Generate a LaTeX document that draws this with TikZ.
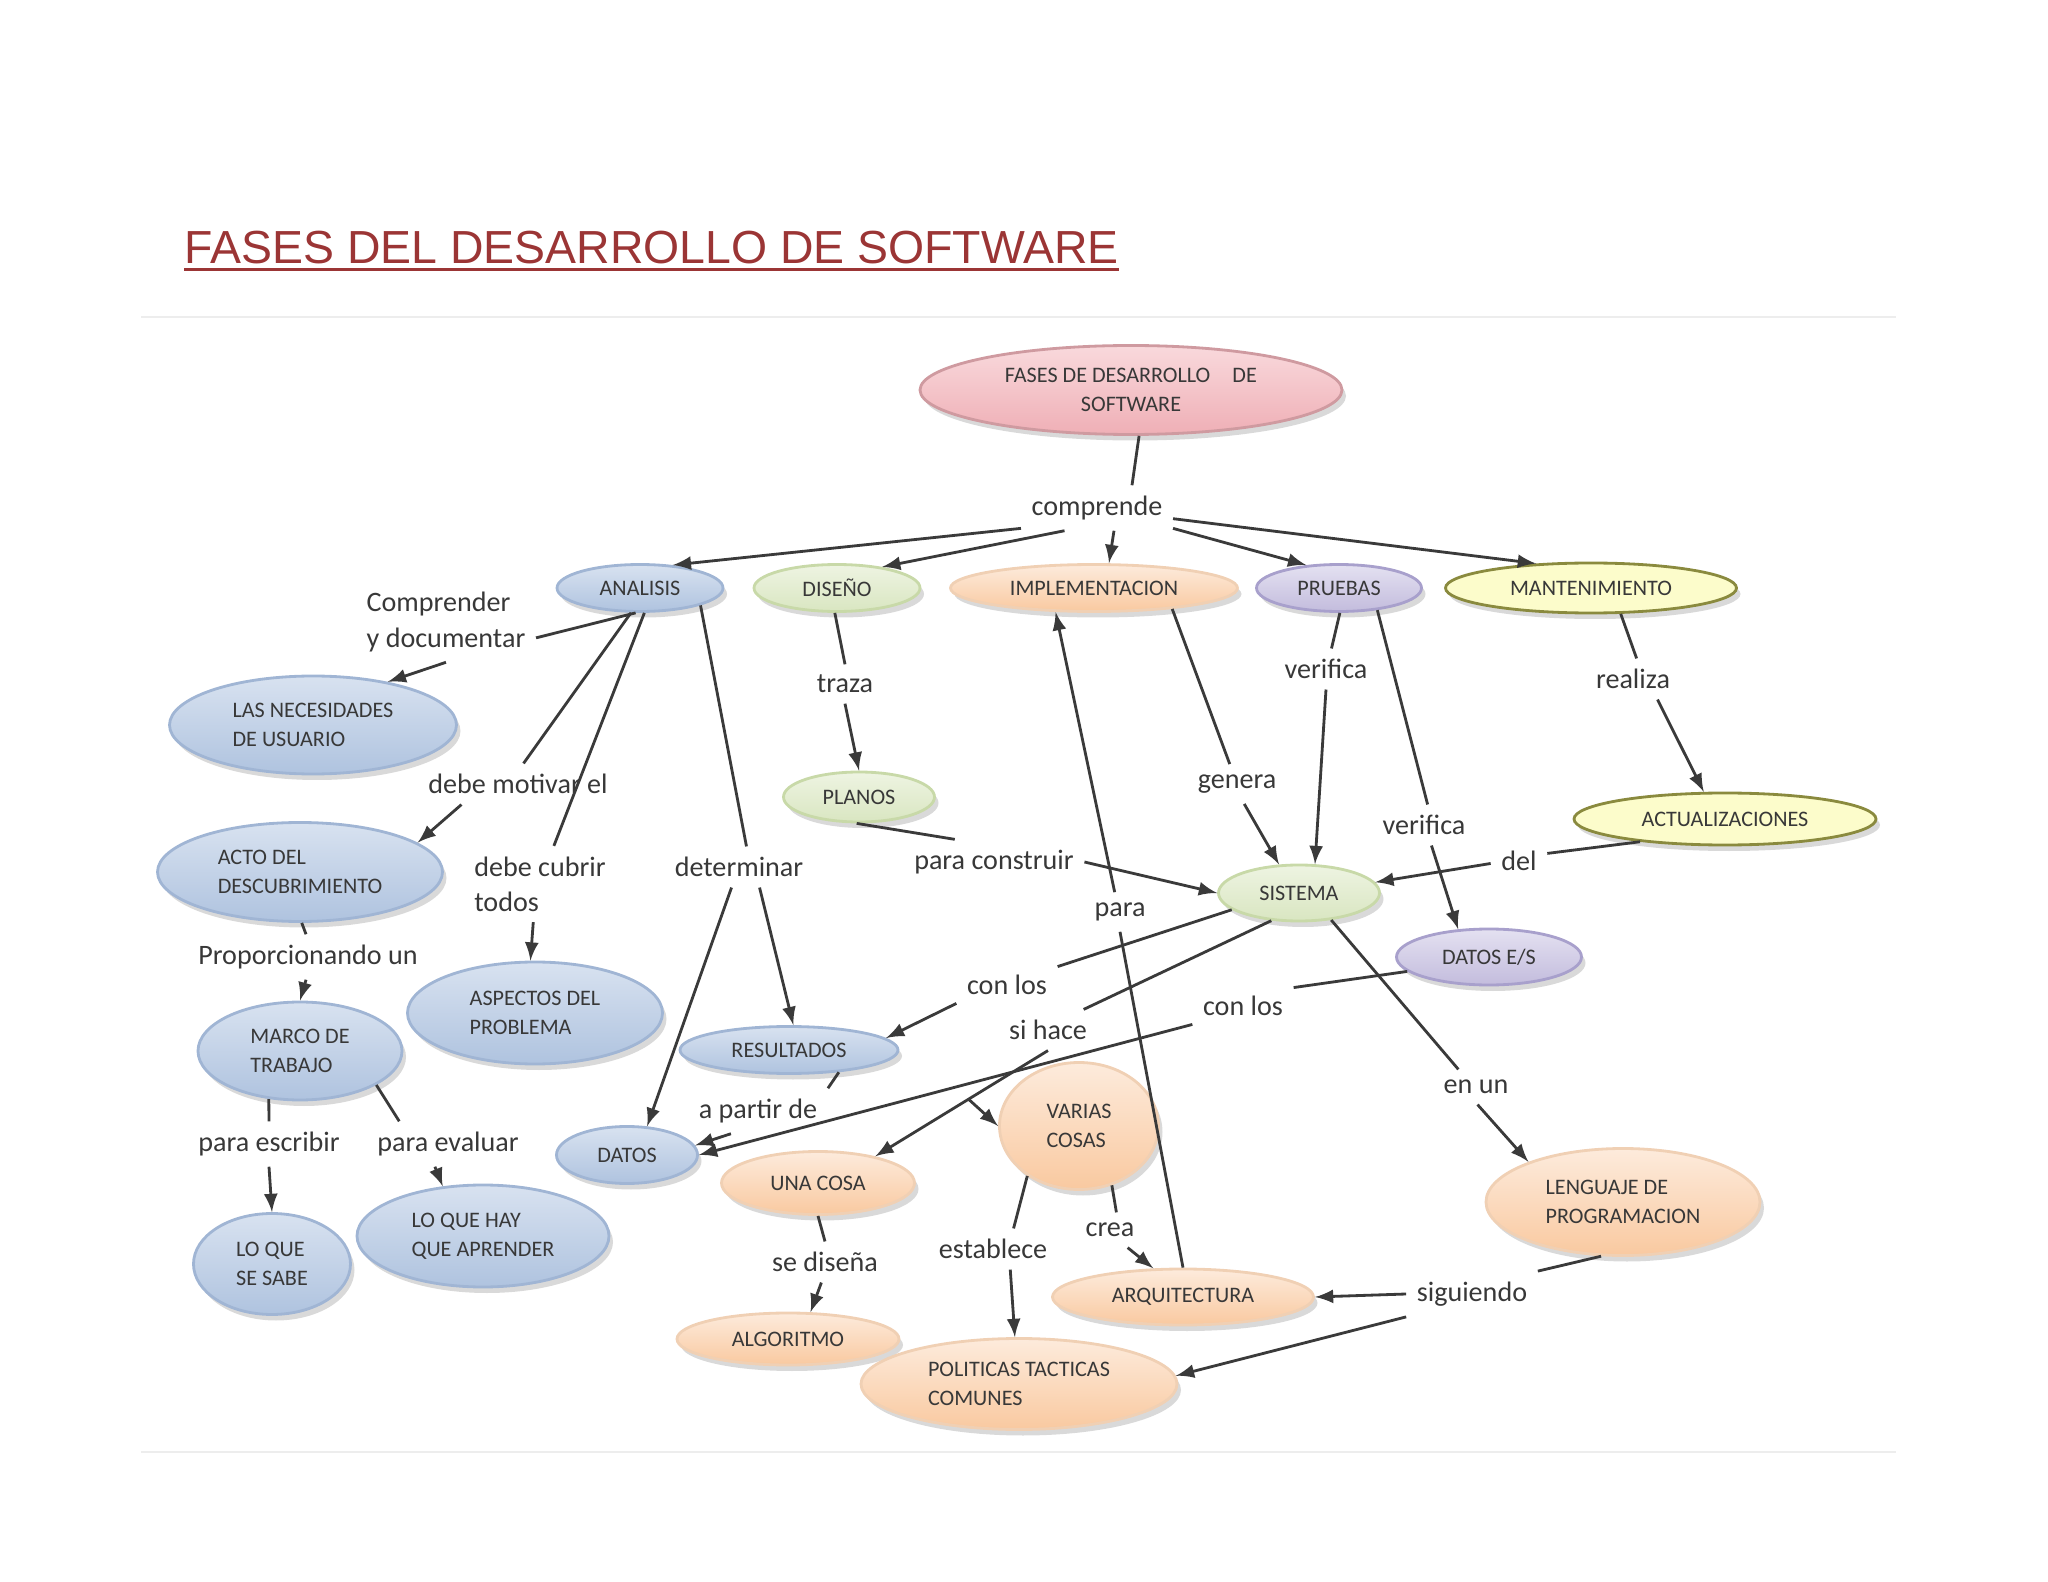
\documentclass[tikz,border=0pt]{standalone}
\usepackage{fontspec}
\setmainfont{Carlito}
\newfontfamily\titlefont{Liberation Sans}
\usetikzlibrary{shapes.geometric,shadows}

\definecolor{titlered}{HTML}{9B3535}
\definecolor{linegray}{HTML}{3A3A3A}
\definecolor{textgray}{HTML}{383838}
\definecolor{bluetop}{HTML}{D8E2F0}
\definecolor{bluebot}{HTML}{AFC3DF}
\definecolor{blueline}{HTML}{A0B5D4}
\definecolor{greentop}{HTML}{EEF4E2}
\definecolor{greenbot}{HTML}{D9E6C1}
\definecolor{greenline}{HTML}{C8D9A8}
\definecolor{orangetop}{HTML}{FDEBDC}
\definecolor{orangebot}{HTML}{F9C9A0}
\definecolor{orangeline}{HTML}{F0D0B4}
\definecolor{purpletop}{HTML}{E4E1F1}
\definecolor{purplebot}{HTML}{C3BCDD}
\definecolor{purpleline}{HTML}{A8A0CC}
\definecolor{yellowfill}{HTML}{FCFCCB}
\definecolor{yellowline}{HTML}{8A8A3E}
\definecolor{pinktop}{HTML}{F9D9DC}
\definecolor{pinkbot}{HTML}{EFAFB6}
\definecolor{pinkline}{HTML}{CF9AA0}

\tikzset{
  concept/.style={ellipse, thick, inner sep=0pt, align=left, text=textgray,
    font=\fontsize{6.3}{8.2}\selectfont,
    drop shadow={shadow xshift=0.4mm, shadow yshift=-0.6mm, fill=black, opacity=0.15}},
  azul/.style={concept, draw=blueline, top color=bluetop, bottom color=bluebot},
  verde/.style={concept, draw=greenline, top color=greentop, bottom color=greenbot},
  naranja/.style={concept, draw=orangeline, top color=orangetop, bottom color=orangebot},
  morado/.style={concept, draw=purpleline, top color=purpletop, bottom color=purplebot},
  amarillo/.style={concept, draw=yellowline, fill=yellowfill},
  rosa/.style={concept, draw=pinkline, top color=pinktop, bottom color=pinkbot},
  link/.style={inner sep=1mm, align=left, text=textgray, font=\fontsize{8}{10}\selectfont},
  conn/.style={linegray, thick},
  arr/.style={conn, -latex}
}

\begin{document}
\begin{tikzpicture}
	\useasboundingbox (0,0) rectangle (20.48,-15.82);

	% title
	\node[anchor=base west, inner sep=0pt, text=titlered, font=\titlefont\fontsize{13.2}{15}\selectfont] (titulo) at (1.84,-2.64) {FASES DEL DESARROLLO DE SOFTWARE};
	\draw[titlered, line width=0.85pt] ([yshift=-1.5pt]titulo.base west) -- ([yshift=-1.5pt]titulo.base east);

	% frame of the map
	\draw[black!7, line width=0.6pt] (1.41,-3.17) -- (18.96,-3.17);
	\draw[black!7, line width=0.6pt] (1.41,-14.52) -- (18.96,-14.52);

	% top
	\node[rosa, align=center, minimum width=4.22cm, minimum height=0.89cm] (fases) at (11.31,-3.90) {FASES DE DESARROLLO\quad DE\\SOFTWARE};
	\node[link] (comprende) at (10.97,-5.08) {comprende};

	% phases
	\node[azul, minimum width=1.66cm, minimum height=0.47cm] (analisis) at (6.40,-5.88) {ANALISIS};
	\node[verde, minimum width=1.66cm, minimum height=0.47cm] (diseno) at (8.37,-5.88) {DISEÑO};
	\node[naranja, minimum width=2.87cm, minimum height=0.47cm] (implem) at (10.94,-5.88) {IMPLEMENTACION};
	\node[morado, minimum width=1.65cm, minimum height=0.47cm] (pruebas) at (13.39,-5.88) {PRUEBAS};
	\node[amarillo, minimum width=2.91cm, minimum height=0.50cm] (manten) at (15.91,-5.88) {MANTENIMIENTO};

	% analisis branch
	\node[link] (comprender) at (4.46,-6.22) {Comprender\\y documentar};
	\node[azul, minimum width=2.87cm, minimum height=0.98cm] (necesidades) at (3.13,-7.25) {LAS NECESIDADES\\DE USUARIO};
	\node[link] (motivar) at (5.18,-7.84) {debe motivar el};
	\node[azul, minimum width=2.85cm, minimum height=0.99cm] (acto) at (3.00,-8.72) {ACTO DEL\\DESCUBRIMIENTO};
	\node[link] (cubrir) at (5.40,-8.84) {debe cubrir\\todos};
	\node[link] (determinar) at (7.39,-8.67) {determinar};
	\node[link] (proporc) at (3.08,-9.57) {Proporcionando un};
	\node[azul, minimum width=2.55cm, minimum height=1.02cm] (aspectos) at (5.35,-10.13) {ASPECTOS DEL\\PROBLEMA};
	\node[azul, minimum width=2.04cm, minimum height=0.98cm] (marco) at (3.00,-10.51) {MARCO DE\\TRABAJO};
	\node[azul, minimum width=2.18cm, minimum height=0.47cm] (resultados) at (7.89,-10.50) {RESULTADOS};
	\node[link] (apartir) at (7.58,-11.11) {a partir de};
	\node[link] (escribir) at (2.69,-11.44) {para escribir};
	\node[link] (evaluar) at (4.48,-11.44) {para evaluar};
	\node[azul, minimum width=1.41cm, minimum height=0.57cm] (datos) at (6.27,-11.55) {DATOS};
	\node[azul, minimum width=2.52cm, minimum height=1.02cm] (loquehay) at (4.83,-12.36) {LO QUE HAY\\QUE APRENDER};
	\node[azul, minimum width=1.57cm, minimum height=1.01cm] (sesabe) at (2.72,-12.64) {LO QUE\\SE SABE};

	% diseno / implementacion / pruebas / mantenimiento
	\node[link] (traza) at (8.45,-6.84) {traza};
	\node[verde, minimum width=1.51cm, minimum height=0.50cm] (planos) at (8.59,-7.97) {PLANOS};
	\node[link] (construir) at (9.94,-8.62) {para construir};
	\node[link] (genera) at (12.37,-7.84) {genera};
	\node[link] (verifica) at (13.26,-6.69) {verifica};
	\node[link] (verificaes) at (14.24,-8.25) {verifica};
	\node[link] (realiza) at (16.33,-6.79) {realiza};
	\node[amarillo, minimum width=3.02cm, minimum height=0.52cm] (actualiz) at (17.25,-8.19) {ACTUALIZACIONES};
	\node[link] (del) at (15.19,-8.61) {del};
	\node[verde, minimum width=1.61cm, minimum height=0.56cm] (sistema) at (12.99,-8.93) {SISTEMA};
	\node[link] (para) at (11.20,-9.12) {para};
	\node[morado, minimum width=1.85cm, minimum height=0.56cm] (datoses) at (14.89,-9.57) {DATOS E/S};

	% sistema branch
	\node[link] (conlosres) at (10.07,-9.85) {con los};
	\node[link] (sihace) at (10.48,-10.30) {si hace};
	\node[link] (conlosdat) at (12.43,-10.06) {con los};
	\node[link] (enun) at (14.76,-10.87) {en un};
	\node[naranja, minimum width=1.59cm, minimum height=1.27cm] (varias) at (10.79,-11.26) {VARIAS\\COSAS};
	\node[naranja, minimum width=1.93cm, minimum height=0.63cm] (unacosa) at (8.18,-11.83) {UNA COSA};
	\node[naranja, minimum width=2.74cm, minimum height=1.07cm] (lenguaje) at (16.23,-12.02) {LENGUAJE DE\\PROGRAMACION};
	\node[link] (crea) at (11.10,-12.30) {crea};
	\node[link] (establece) at (9.93,-12.49) {establece};
	\node[link] (disena) at (8.25,-12.62) {se diseña};
	\node[link] (siguiendo) at (14.72,-12.94) {siguiendo};
	\node[naranja, minimum width=2.61cm, minimum height=0.56cm] (arquitectura) at (11.83,-12.97) {ARQUITECTURA};
	\node[naranja, minimum width=2.22cm, minimum height=0.52cm] (algoritmo) at (7.88,-13.39) {ALGORITMO};
	\node[naranja, minimum width=3.16cm, minimum height=0.91cm] (politicas) at (10.19,-13.84) {POLITICAS TACTICAS\\COMUNES};

	% connectors from the root
	\draw[conn] (fases.-80) -- ([xshift=3.5mm]comprende.north);
	\draw[arr] (comprende.-165) -- (analisis.35);
	\draw[arr] (comprende.-145) -- (diseno.25);
	\draw[arr] ([xshift=1.7mm]comprende.south) -- ([xshift=1.5mm]implem.north);
	\draw[arr] (comprende.-15) -- (pruebas.145);
	\draw[arr] (comprende.-8) -- (manten.156);

	% analisis
	\draw[conn] (analisis.-100) -- (comprender.-10);
	\draw[arr] (comprender.south) -- (necesidades.30);
	\draw[conn] (analisis.-110) -- (motivar.75);
	\draw[arr] (motivar.-160) -- (acto.14);
	\draw[conn] (analisis.-80) -- (cubrir.70);
	\draw[arr] (cubrir.-100) -- (aspectos.95);
	\draw[conn] (analisis.-16) -- (determinar.70);
	\draw[arr] (determinar.-110) -- (datos.55);
	\draw[arr] (determinar.-45) -- (resultados.80);
	\draw[conn] (acto.-88) -- (proporc.95);
	\draw[arr] (proporc.-95) -- (marco.north);
	\draw[conn] (marco.-123) -- (escribir.north);
	\draw[arr] (escribir.south) -- (sesabe.north);
	\draw[conn] (marco.-24) -- (evaluar.155);
	\draw[arr] (evaluar.-120) -- (loquehay.129);

	% diseno and implementacion
	\draw[conn] (diseno.-95) -- (traza.north);
	\draw[arr] (traza.south) -- (planos.north);
	\draw[conn] (planos.-95) -- (construir.150);
	\draw[arr] (construir.east) -- (sistema.west);
	\draw[conn] (arquitectura.north) -- (para.south);
	\draw[arr] (para.105) -- (implem.-148);
	\draw[conn] (implem.-15) -- (genera.110);
	\draw[arr] (genera.-70) -- (sistema.125);

	% pruebas and mantenimiento
	\draw[conn] (pruebas.-88) -- (verifica.75);
	\draw[arr] (verifica.south) -- (sistema.61);
	\draw[conn] (pruebas.-30) -- (verificaes.80);
	\draw[arr] (verificaes.-70) -- (datoses.138);
	\draw[conn] (manten.-41) -- (realiza.80);
	\draw[arr] (realiza.-40) -- (actualiz.128);
	\draw[conn] (actualiz.-165) -- (del.15);
	\draw[arr] (del.-175) -- (sistema.8);

	% sistema
	\draw[conn] (sistema.-166) -- (conlosres.20);
	\draw[arr] (conlosres.-160) -- (resultados.7);
	\draw[conn] (sistema.-135) -- (sihace.30);
	\draw[arr] (sihace.south) -- coordinate[pos=0.46] (cosas) (unacosa.25);
	\draw[arr] (cosas) -- (varias.west);
	\draw[conn] (datoses.-170) -- (conlosdat.20);
	\draw[arr] (conlosdat.-160) -- (datos.east);
	\draw[conn] (resultados.-24) -- (apartir.north east);
	\draw[arr] (apartir.-140) -- (datos.8);
	\draw[conn] (sistema.-40) -- (enun.135);
	\draw[arr] (enun.-85) -- (lenguaje.157);
	\draw[conn] (lenguaje.-112) -- (siguiendo.north east);
	\draw[arr] (siguiendo.west) -- (arquitectura.east);
	\draw[arr] (siguiendo.south west) -- (politicas.3);

	% varias cosas / una cosa
	\draw[conn] (varias.-136) -- (establece.45);
	\draw[arr] (establece.-50) -- (politicas.95);
	\draw[conn] (varias.-61) -- (crea.70);
	\draw[arr] (crea.-45) -- (arquitectura.136);
	\draw[conn] (unacosa.south) -- (disena.north);
	\draw[arr] (disena.-100) -- (algoritmo.50);
\end{tikzpicture}
\end{document}
